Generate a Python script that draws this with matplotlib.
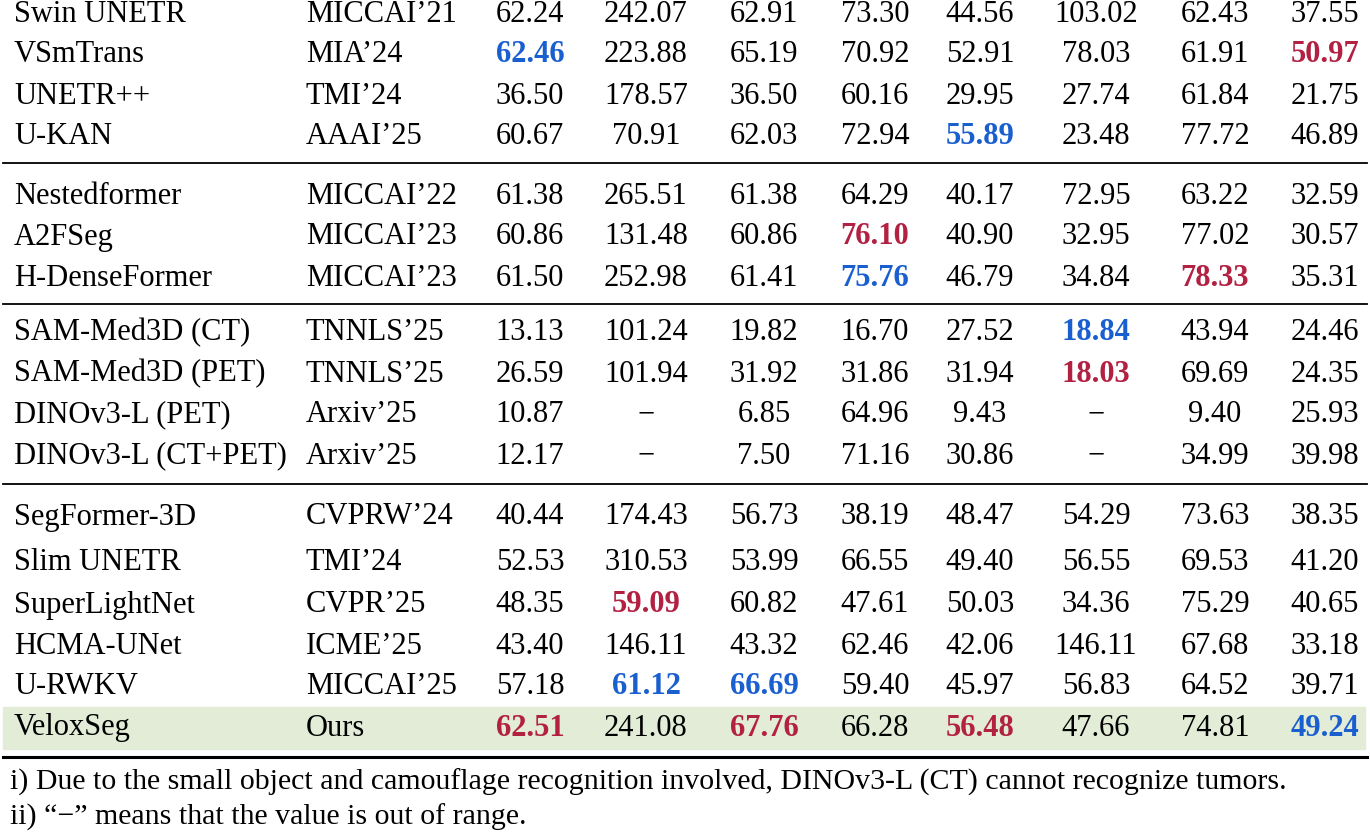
import matplotlib
matplotlib.use("Agg")
import matplotlib.pyplot as plt
from matplotlib.patches import Rectangle

methods = ["Swin UNETR","VSmTrans","UNETR++","U-KAN",
           "Nestedformer","A2FSeg","H-DenseFormer",
           "SAM-Med3D (CT)","SAM-Med3D (PET)","DINOv3-L (PET)","DINOv3-L (CT+PET)",
           "SegFormer-3D","Slim UNETR","SuperLightNet","HCMA-UNet","U-RWKV","VeloxSeg"]
venues = ["MICCAI’21","MIA’24","TMI’24","AAAI’25",
          "MICCAI’22","MICCAI’23","MICCAI’23",
          "TNNLS’25","TNNLS’25","Arxiv’25","Arxiv’25",
          "CVPRW’24","TMI’24","CVPR’25","ICME’25","MICCAI’25","Ours"]
values = [
 ["62.24","242.07","62.91","73.30","44.56","103.02","62.43","37.55"],
 ["62.46","223.88","65.19","70.92","52.91","78.03","61.91","50.97"],
 ["36.50","178.57","36.50","60.16","29.95","27.74","61.84","21.75"],
 ["60.67","70.91","62.03","72.94","55.89","23.48","77.72","46.89"],
 ["61.38","265.51","61.38","64.29","40.17","72.95","63.22","32.59"],
 ["60.86","131.48","60.86","76.10","40.90","32.95","77.02","30.57"],
 ["61.50","252.98","61.41","75.76","46.79","34.84","78.33","35.31"],
 ["13.13","101.24","19.82","16.70","27.52","18.84","43.94","24.46"],
 ["26.59","101.94","31.92","31.86","31.94","18.03","69.69","24.35"],
 ["10.87","−","6.85","64.96","9.43","−","9.40","25.93"],
 ["12.17","−","7.50","71.16","30.86","−","34.99","39.98"],
 ["40.44","174.43","56.73","38.19","48.47","54.29","73.63","38.35"],
 ["52.53","310.53","53.99","66.55","49.40","56.55","69.53","41.20"],
 ["48.35","59.09","60.82","47.61","50.03","34.36","75.29","40.65"],
 ["43.40","146.11","43.32","62.46","42.06","146.11","67.68","33.18"],
 ["57.18","61.12","66.69","59.40","45.97","56.83","64.52","39.71"],
 ["62.51","241.08","67.76","66.28","56.48","47.66","74.81","49.24"],
]
# (row, col): 'r' best (red), 'b' second (blue)
highlights = {(1,0):'b',(1,7):'r',(3,4):'b',(5,3):'r',(6,3):'b',(6,6):'r',
              (7,5):'b',(8,5):'r',(13,1):'r',(15,1):'b',(15,2):'b',
              (16,0):'r',(16,2):'r',(16,4):'r',(16,7):'b'}
footnotes = ["i) Due to the small object and camouflage recognition involved, DINOv3-L (CT) cannot recognize tumors.",
             "ii) “−” means that the value is out of range."]

W, H = 1370, 836
fig = plt.figure(figsize=(W/100, H/100), dpi=100)
ax = fig.add_axes([0, 0, 1, 1])
ax.set_xlim(0, W); ax.set_ylim(H, 0); ax.axis("off")
font = "Liberation Serif"
fs = 22
row_y = [14,55,96,137, 196,237,278, 333,374,415,456, 517,563,605,646,687,728]
col_x = [538,640,735,830,920,1012,1105,1200]
col_x = [530,646,764,875,980,1096,1215,1325]
RED, BLUE = "#b22142", "#1a5fd0"

ax.add_patch(Rectangle((3, 707), 1362, 42, color="#e3ecd7", zorder=0))
for y, lw in [(163,1.3),(304,1.3),(484,1.3),(757,2.2)]:
    ax.plot([3, 1367], [y, y], color="black", lw=lw)

for i, y in enumerate(row_y):
    ax.text(14, y, methods[i], fontsize=fs, family=font, va="center", ha="left")
    ax.text(306, y, venues[i], fontsize=fs, family=font, va="center", ha="left")
    for j, v in enumerate(values[i]):
        h = highlights.get((i, j))
        kw = dict(fontsize=fs, family=font, va="center", ha="center")
        if h:
            kw.update(color=RED if h == 'r' else BLUE, fontweight="bold")
        ax.text(col_x[j], y, v, **kw)

ax.text(10, 782, footnotes[0], fontsize=21.5, family=font, va="center", ha="left")
ax.text(10, 817, footnotes[1], fontsize=21.5, family=font, va="center", ha="left")
fig.savefig("out.png", dpi=100)
